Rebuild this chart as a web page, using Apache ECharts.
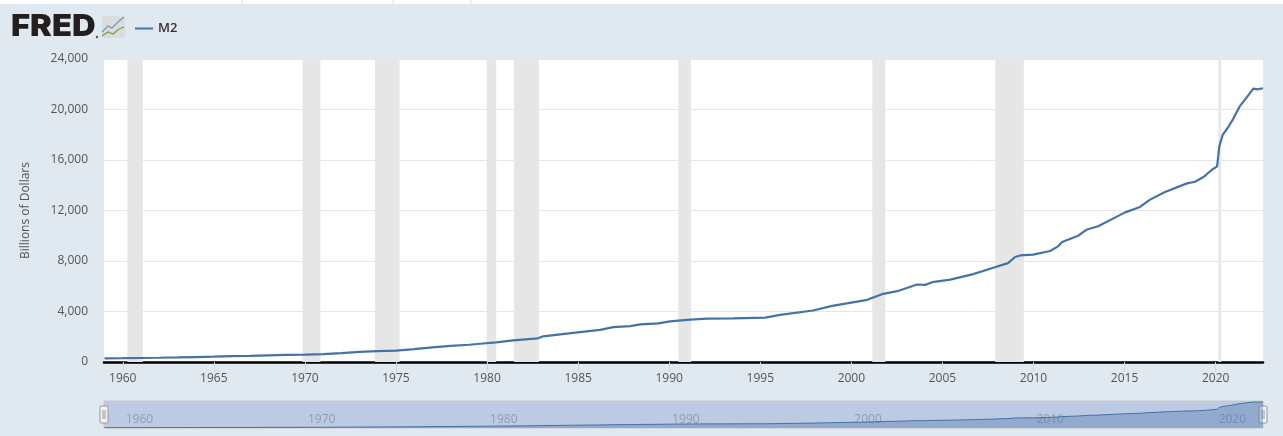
<!DOCTYPE html>
<html>
<head>
<meta charset="utf-8">
<title>M2</title>
<script src="https://cdn.jsdelivr.net/npm/echarts@6/dist/echarts.min.js"></script>
<style>
html, body { margin: 0; padding: 0; background: #e1e9f0; }
#chart { width: 1283px; height: 436px; }
</style>
</head>
<body>
<div id="chart"></div>
<script>
// decimal years
var years = [1959, 1960, 1961, 1962, 1963, 1964, 1965, 1966, 1967, 1968, 1969, 1970, 1971, 1972, 1973, 1974, 1975,
    1976, 1977, 1978, 1979, 1979.63, 1980.5, 1981.44, 1982.8, 1983.08, 1984.73, 1986.2, 1986.93, 1987.86, 1988.4,
    1989.4, 1990.05, 1991.15, 1992.08, 1993.5, 1995.27, 1996.09, 1997.9, 1998.95, 2000.87, 2001.75, 2002.52,
    2003.61, 2004.05, 2004.44, 2005.43, 2006.69, 2007.79, 2008.6, 2008.99, 2009.27, 2009.98, 2010.91, 2011.35,
    2011.57, 2012.45, 2012.94, 2013.55, 2015.03, 2015.85, 2016.4, 2017.22, 2018.43, 2018.87, 2019.31, 2019.8,
    2020.08, 2020.2, 2020.39, 2020.7, 2020.96, 2021.34, 2021.56, 2022.07, 2022.3, 2022.6];
var m2Values = [290, 300, 315, 335, 362, 393, 424, 459, 480, 525, 567, 590, 630, 710, 802, 856, 905,
    1016, 1152, 1271, 1365, 1447, 1554, 1715, 1876, 2037, 2305, 2546, 2760, 2840, 2975,
    3055, 3216, 3350, 3430, 3457, 3510, 3736, 4080, 4450, 4925, 5400, 5610,
    6140, 6110, 6320, 6530, 6960, 7460, 7830, 8320, 8440, 8500, 8790, 9160,
    9500, 10000, 10500, 10750, 11850, 12280, 12860, 13460, 14150, 14280, 14630, 15230,
    15500, 17080, 18000, 18630, 19240, 20290, 20680, 21650, 21600, 21680];

var recessionStart = [1960.25, 1969.87, 1973.85, 1979.98, 1981.48, 1990.5, 2001.15, 2007.9, 2020.15];
var recessionEnd = [1961.1, 1970.85, 1975.2, 1980.5, 1982.85, 1991.2, 2001.87, 2009.47, 2020.3];

var yTicks = [0, 4000, 8000, 12000, 16000, 20000, 24000];
var xTicks = [1960, 1965, 1970, 1975, 1980, 1985, 1990, 1995, 2000, 2005, 2010, 2015, 2020];
var navTicks = [1960, 1970, 1980, 1990, 2000, 2010, 2020];

var labelFont = '"Open Sans", sans-serif';
var lineData = years.map(function (y, i) { return [y, m2Values[i]]; });
var bands = recessionStart.map(function (s, i) {
    return [{ xAxis: s }, { xAxis: recessionEnd[i] }];
});

function yearLabel(v) { return String(v); }

function navHandle(x) {
    return {
        type: 'group', x: x, y: 406, z: 20,
        children: [
            { type: 'rect', shape: { x: 0, y: 0, width: 8, height: 17, r: 1 }, style: { fill: '#f2f2f2', stroke: '#999', lineWidth: 1 } },
            { type: 'line', shape: { x1: 3, y1: 4, x2: 3, y2: 13 }, style: { stroke: '#999', lineWidth: 1 } },
            { type: 'line', shape: { x1: 5, y1: 4, x2: 5, y2: 13 }, style: { stroke: '#999', lineWidth: 1 } }
        ]
    };
}

var myChart = echarts.init(document.getElementById('chart'), null, { renderer: 'canvas' });
myChart.setOption({
    animation: false,
    backgroundColor: '#e1e9f0',
    textStyle: { fontFamily: labelFont },
    legend: {
        left: 130, top: 17, itemWidth: 18, itemHeight: 2, itemGap: 5,
        data: [{ name: 'M2', icon: 'rect' }],
        textStyle: { color: '#333', fontSize: 13, fontWeight: 600, fontFamily: labelFont }
    },
    grid: [
        { left: 104, right: 20, top: 59, height: 303, show: true, backgroundColor: '#fff', borderWidth: 0 },
        { left: 104, right: 20, top: 401, height: 27, show: true, backgroundColor: '#bccae3', borderColor: '#c8c8c8', borderWidth: 1 }
    ],
    xAxis: [
        {
            type: 'value', gridIndex: 0, min: 1958.97, max: 2022.6,
            splitLine: { show: false },
            axisLine: { onZero: false, lineStyle: { color: '#000', width: 2.5 } },
            axisTick: { length: 10, lineStyle: { color: '#ccd6eb' }, customValues: xTicks },
            axisLabel: { customValues: xTicks, margin: 11, color: '#555', fontSize: 12, formatter: yearLabel }
        },
        {
            type: 'value', gridIndex: 1, min: 1958.97, max: 2022.6,
            splitLine: { show: false },
            axisLine: { show: false },
            axisTick: { show: false },
            axisLabel: {
                inside: true, customValues: navTicks, margin: 2, align: 'left', padding: [0, 0, 0, 3],
                color: 'rgba(90,100,120,0.45)', fontSize: 12, formatter: yearLabel
            }
        }
    ],
    yAxis: [
        {
            type: 'value', gridIndex: 0, min: 0, max: 24000, interval: 4000,
            name: 'Billions of Dollars', nameLocation: 'middle', nameGap: 72, nameRotate: 90,
            nameTextStyle: { color: '#555', fontSize: 12 },
            axisLine: { show: false },
            axisTick: { show: false },
            splitLine: { lineStyle: { color: '#e6e6e6', width: 1 } },
            axisLabel: {
                margin: 16, color: '#555', fontSize: 12,
                customValues: yTicks,
                formatter: function (v) { return v.toLocaleString('en-US'); }
            }
        },
        {
            type: 'value', gridIndex: 1, min: 0, max: 22500,
            axisLine: { show: false }, axisTick: { show: false }, axisLabel: { show: false }, splitLine: { show: false }
        }
    ],
    series: [
        {
            name: 'M2', type: 'line', xAxisIndex: 0, yAxisIndex: 0, data: lineData,
            symbol: 'none', smooth: false, z: 5, clip: true,
            itemStyle: { color: '#4572a7' },
            lineStyle: { color: '#4572a7', width: 2.2 },
            markArea: { silent: true, z: 1, itemStyle: { color: '#e6e6e6', opacity: 1 }, data: bands }
        },
        {
            name: 'nav', type: 'line', xAxisIndex: 1, yAxisIndex: 1, data: lineData,
            symbol: 'none', z: 5,
            lineStyle: { color: '#4572a7', width: 1 },
            itemStyle: { color: '#4572a7' },
            areaStyle: { color: 'rgba(69,114,167,0.5)' }
        }
    ],
    graphic: [
        // white strip along the top edge of the page
        { type: 'rect', shape: { x: 0, y: 0, width: 1283, height: 4 }, style: { fill: '#fff' }, z: 20 },
        { type: 'line', shape: { x1: 242, y1: 0, x2: 242, y2: 4 }, style: { stroke: '#dbe3ec' }, z: 21 },
        { type: 'line', shape: { x1: 393, y1: 0, x2: 393, y2: 4 }, style: { stroke: '#dbe3ec' }, z: 21 },
        { type: 'line', shape: { x1: 471, y1: 0, x2: 471, y2: 4 }, style: { stroke: '#dbe3ec' }, z: 21 },
        // logo
        { type: 'text', x: 11, y: 12, scaleX: 1.09, z: 20, style: { text: 'FRED', fill: '#231f20', font: '900 30px Inter, sans-serif' } },
        { type: 'circle', shape: { cx: 97, cy: 37, r: 1.2 }, style: { fill: '#555' }, z: 20 },
        { type: 'rect', shape: { x: 102, y: 16, width: 23, height: 22, r: 2 }, style: { fill: '#dcdcdc' }, z: 20 },
        { type: 'polyline', shape: { points: [[102, 32], [108, 26], [112, 28], [118, 22], [124, 17]] }, style: { stroke: '#6f9bbd', fill: 'none', lineWidth: 1.2 }, z: 21 },
        { type: 'polyline', shape: { points: [[102, 36], [108, 32], [113, 34], [119, 29], [124, 27]] }, style: { stroke: '#6f9f4f', fill: 'none', lineWidth: 1.2 }, z: 21 },
        navHandle(100),
        navHandle(1259)
    ]
});
</script>
</body>
</html>
